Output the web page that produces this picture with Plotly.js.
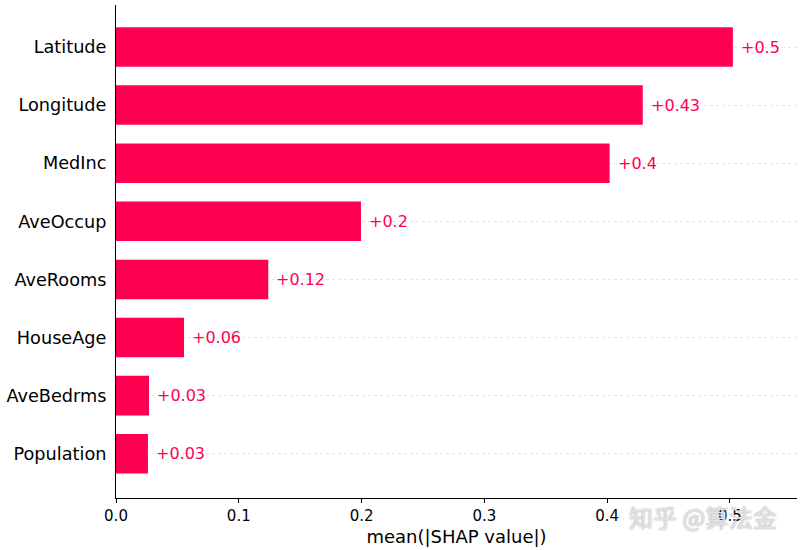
<!DOCTYPE html>
<html>
<head>
<meta charset="utf-8">
<script src="https://cdn.plot.ly/plotly-3.0.1.min.js"></script>
<style>html,body{margin:0;padding:0;background:#fff;}#chart{width:800px;height:550px;}</style>
</head>
<body>
<div id="chart"></div>
<script>
const features = ["Latitude", "Longitude", "MedInc", "AveOccup", "AveRooms", "HouseAge", "AveBedrms", "Population"];
const meanAbsShap = [0.5024, 0.429, 0.402, 0.1995, 0.124, 0.0554, 0.0269, 0.026];
const xTicks = [0, 0.1, 0.2, 0.3, 0.4, 0.5];
const xTickLabels = ["0.0", "0.1", "0.2", "0.3", "0.4", "0.5"];

const red = "#ff0051";
function fmt(v) {
  let s = v.toFixed(2).replace(/0+$/, "").replace(/\.$/, "");
  return "+" + s;
}

const trace = {
  type: "bar",
  orientation: "h",
  x: meanAbsShap,
  y: features,
  width: 0.68,
  marker: {color: red, line: {width: 0}},
  hoverinfo: "x+y"
};

const annotations = features.map((f, i) => ({
  x: meanAbsShap[i], y: f, xref: "x", yref: "y",
  text: fmt(meanAbsShap[i]), showarrow: false,
  xanchor: "left", yanchor: "middle", xshift: 6,
  font: {family: "DejaVu Sans", size: 16, color: red}
}));
annotations.push({
  xref: "paper", yref: "paper", x: 1, y: 0, yshift: -18, xshift: -18,
  xanchor: "right", yanchor: "middle",
  text: "知乎 @算法金", showarrow: false,
  font: {family: "Noto Sans CJK SC", size: 24, color: "rgba(238,238,238,0.9)", shadow: "0px 0px 1.5px #777"}
});

const layout = {
  width: 800, height: 550,
  margin: {l: 116, r: 3, t: 5, b: 52},
  paper_bgcolor: "#fff", plot_bgcolor: "#fff",
  showlegend: false,
  xaxis: {
    range: [0, 0.5546],
    tickvals: xTicks, ticktext: xTickLabels,
    ticks: "outside", ticklen: 4, tickwidth: 1, tickcolor: "#000",
    showline: true, linecolor: "#000", linewidth: 1,
    showgrid: false, zeroline: false,
    tickfont: {family: "DejaVu Sans", size: 15, color: "#000"},
    title: {text: "mean(|SHAP value|)", font: {family: "DejaVu Sans", size: 18, color: "#000"}, standoff: 6}
  },
  yaxis: {
    type: "category",
    range: [7.762, -0.723],
    showline: true, linecolor: "#000", linewidth: 1,
    ticks: "", showgrid: true, gridcolor: "#cccccc", gridwidth: 0.5, griddash: "dot",
    zeroline: false,
    ticklabelstandoff: 5,
    tickfont: {family: "DejaVu Sans", size: 17.7, color: "#000"}
  },
  annotations: annotations
};

Plotly.newPlot("chart", [trace], layout, {displayModeBar: false, staticPlot: true});
</script>
</body>
</html>
